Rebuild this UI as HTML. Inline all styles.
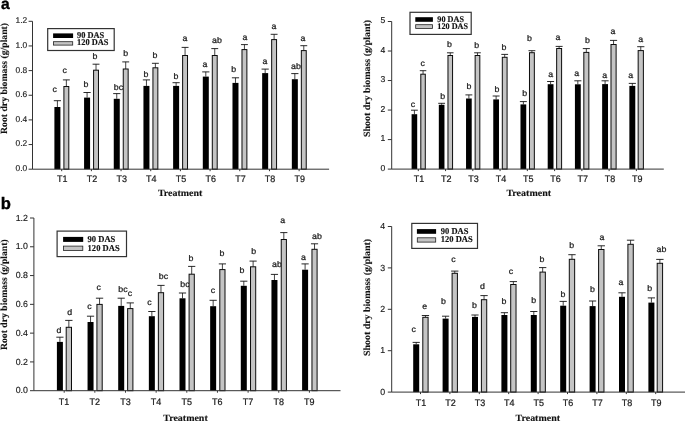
<!DOCTYPE html>
<html lang="en"><head><meta charset="utf-8"><title>Root and shoot dry biomass</title>
<style>html,body{margin:0;padding:0;background:#fff;}body{width:685px;height:421px;overflow:hidden;}svg{display:block;}text{text-rendering:geometricPrecision;}.s{font-family:"Liberation Sans", Arial, sans-serif;fill:#1a1a1a;}.b{font-family:"Liberation Serif", "Times New Roman", serif;font-weight:bold;fill:#111;}.p{font-family:"Liberation Sans", Arial, sans-serif;font-weight:bold;fill:#000;stroke:#000;stroke-width:0.35px;}</style>
</head><body>
<svg width="685" height="421" viewBox="0 0 685 421">
<rect width="685" height="421" fill="#fff"/>
<text class="p" x="0.9" y="8.8" font-size="15.6">a</text>
<text class="p" x="0.7" y="208.6" font-size="16.6">b</text>
<g id="chartA">
<path d="M57.40 107.00V100.70" stroke="#222" stroke-width="0.85" fill="none"/>
<path d="M53.80 100.70H61.00" stroke="#111" stroke-width="0.9" fill="none"/>
<rect x="54.40" y="107.00" width="6.00" height="62.20" fill="#000"/>
<text class="s" transform="translate(54.60 92.40) scale(0.2200 0.2075)" font-size="40" stroke="#1a1a1a" stroke-width="1.2" text-anchor="middle">c</text>
<path d="M66.35 86.60V79.90" stroke="#222" stroke-width="0.85" fill="none"/>
<path d="M62.90 79.90H69.80" stroke="#111" stroke-width="0.9" fill="none"/>
<rect x="63.90" y="86.50" width="4.90" height="82.70" fill="#c4c4c4" stroke="#0c0c0c" stroke-width="1"/>
<text class="s" transform="translate(64.60 73.00) scale(0.2200 0.2075)" font-size="40" stroke="#1a1a1a" stroke-width="1.2" text-anchor="middle">c</text>
<path d="M87.08 97.60V92.50" stroke="#222" stroke-width="0.85" fill="none"/>
<path d="M83.48 92.50H90.68" stroke="#111" stroke-width="0.9" fill="none"/>
<rect x="84.08" y="97.60" width="6.00" height="71.60" fill="#000"/>
<text class="s" transform="translate(86.00 87.00) scale(0.2200 0.2075)" font-size="40" stroke="#1a1a1a" stroke-width="1.2" text-anchor="middle">b</text>
<path d="M96.03 70.30V64.20" stroke="#222" stroke-width="0.85" fill="none"/>
<path d="M92.58 64.20H99.48" stroke="#111" stroke-width="0.9" fill="none"/>
<rect x="93.58" y="70.20" width="4.90" height="99.00" fill="#c4c4c4" stroke="#0c0c0c" stroke-width="1"/>
<text class="s" transform="translate(95.00 58.60) scale(0.2200 0.2075)" font-size="40" stroke="#1a1a1a" stroke-width="1.2" text-anchor="middle">b</text>
<path d="M116.76 98.80V93.60" stroke="#222" stroke-width="0.85" fill="none"/>
<path d="M113.16 93.60H120.36" stroke="#111" stroke-width="0.9" fill="none"/>
<rect x="113.76" y="98.80" width="6.00" height="70.40" fill="#000"/>
<text class="s" transform="translate(118.40 90.00) scale(0.2200 0.2075)" font-size="40" stroke="#1a1a1a" stroke-width="1.2" text-anchor="middle">bc</text>
<path d="M125.71 69.10V61.90" stroke="#222" stroke-width="0.85" fill="none"/>
<path d="M122.26 61.90H129.16" stroke="#111" stroke-width="0.9" fill="none"/>
<rect x="123.26" y="69.00" width="4.90" height="100.20" fill="#c4c4c4" stroke="#0c0c0c" stroke-width="1"/>
<text class="s" transform="translate(125.60 56.00) scale(0.2200 0.2075)" font-size="40" stroke="#1a1a1a" stroke-width="1.2" text-anchor="middle">b</text>
<path d="M146.44 85.90V79.90" stroke="#222" stroke-width="0.85" fill="none"/>
<path d="M142.84 79.90H150.04" stroke="#111" stroke-width="0.9" fill="none"/>
<rect x="143.44" y="85.90" width="6.00" height="83.30" fill="#000"/>
<text class="s" transform="translate(146.00 77.40) scale(0.2200 0.2075)" font-size="40" stroke="#1a1a1a" stroke-width="1.2" text-anchor="middle">b</text>
<path d="M155.39 67.90V63.30" stroke="#222" stroke-width="0.85" fill="none"/>
<path d="M151.94 63.30H158.84" stroke="#111" stroke-width="0.9" fill="none"/>
<rect x="152.94" y="67.80" width="4.90" height="101.40" fill="#c4c4c4" stroke="#0c0c0c" stroke-width="1"/>
<text class="s" transform="translate(155.00 58.00) scale(0.2200 0.2075)" font-size="40" stroke="#1a1a1a" stroke-width="1.2" text-anchor="middle">b</text>
<path d="M176.12 85.90V82.70" stroke="#222" stroke-width="0.85" fill="none"/>
<path d="M172.52 82.70H179.72" stroke="#111" stroke-width="0.9" fill="none"/>
<rect x="173.12" y="85.90" width="6.00" height="83.30" fill="#000"/>
<text class="s" transform="translate(176.00 78.60) scale(0.2200 0.2075)" font-size="40" stroke="#1a1a1a" stroke-width="1.2" text-anchor="middle">b</text>
<path d="M185.07 55.60V47.40" stroke="#222" stroke-width="0.85" fill="none"/>
<path d="M181.62 47.40H188.52" stroke="#111" stroke-width="0.9" fill="none"/>
<rect x="182.62" y="55.50" width="4.90" height="113.70" fill="#c4c4c4" stroke="#0c0c0c" stroke-width="1"/>
<text class="s" transform="translate(185.00 41.00) scale(0.2200 0.2075)" font-size="40" stroke="#1a1a1a" stroke-width="1.2" text-anchor="middle">a</text>
<path d="M205.80 76.60V71.90" stroke="#222" stroke-width="0.85" fill="none"/>
<path d="M202.20 71.90H209.40" stroke="#111" stroke-width="0.9" fill="none"/>
<rect x="202.80" y="76.60" width="6.00" height="92.60" fill="#000"/>
<text class="s" transform="translate(205.00 67.00) scale(0.2200 0.2075)" font-size="40" stroke="#1a1a1a" stroke-width="1.2" text-anchor="middle">a</text>
<path d="M214.75 55.60V48.60" stroke="#222" stroke-width="0.85" fill="none"/>
<path d="M211.30 48.60H218.20" stroke="#111" stroke-width="0.9" fill="none"/>
<rect x="212.30" y="55.50" width="4.90" height="113.70" fill="#c4c4c4" stroke="#0c0c0c" stroke-width="1"/>
<text class="s" transform="translate(217.00 43.00) scale(0.2200 0.2075)" font-size="40" stroke="#1a1a1a" stroke-width="1.2" text-anchor="middle">ab</text>
<path d="M235.48 82.90V77.80" stroke="#222" stroke-width="0.85" fill="none"/>
<path d="M231.88 77.80H239.08" stroke="#111" stroke-width="0.9" fill="none"/>
<rect x="232.48" y="82.90" width="6.00" height="86.30" fill="#000"/>
<text class="s" transform="translate(233.60 72.00) scale(0.2200 0.2075)" font-size="40" stroke="#1a1a1a" stroke-width="1.2" text-anchor="middle">b</text>
<path d="M244.43 49.70V44.60" stroke="#222" stroke-width="0.85" fill="none"/>
<path d="M240.98 44.60H247.88" stroke="#111" stroke-width="0.9" fill="none"/>
<rect x="241.98" y="49.60" width="4.90" height="119.60" fill="#c4c4c4" stroke="#0c0c0c" stroke-width="1"/>
<text class="s" transform="translate(245.00 40.00) scale(0.2200 0.2075)" font-size="40" stroke="#1a1a1a" stroke-width="1.2" text-anchor="middle">a</text>
<path d="M265.16 73.10V69.10" stroke="#222" stroke-width="0.85" fill="none"/>
<path d="M261.56 69.10H268.76" stroke="#111" stroke-width="0.9" fill="none"/>
<rect x="262.16" y="73.10" width="6.00" height="96.10" fill="#000"/>
<text class="s" transform="translate(265.00 64.40) scale(0.2200 0.2075)" font-size="40" stroke="#1a1a1a" stroke-width="1.2" text-anchor="middle">a</text>
<path d="M274.11 39.70V34.30" stroke="#222" stroke-width="0.85" fill="none"/>
<path d="M270.66 34.30H277.56" stroke="#111" stroke-width="0.9" fill="none"/>
<rect x="271.66" y="39.60" width="4.90" height="129.60" fill="#c4c4c4" stroke="#0c0c0c" stroke-width="1"/>
<text class="s" transform="translate(274.00 29.00) scale(0.2200 0.2075)" font-size="40" stroke="#1a1a1a" stroke-width="1.2" text-anchor="middle">a</text>
<path d="M294.84 79.20V73.60" stroke="#222" stroke-width="0.85" fill="none"/>
<path d="M291.24 73.60H298.44" stroke="#111" stroke-width="0.9" fill="none"/>
<rect x="291.84" y="79.20" width="6.00" height="90.00" fill="#000"/>
<text class="s" transform="translate(296.00 69.00) scale(0.2200 0.2075)" font-size="40" stroke="#1a1a1a" stroke-width="1.2" text-anchor="middle">ab</text>
<path d="M303.79 50.70V45.70" stroke="#222" stroke-width="0.85" fill="none"/>
<path d="M300.34 45.70H307.24" stroke="#111" stroke-width="0.9" fill="none"/>
<rect x="301.34" y="50.60" width="4.90" height="118.60" fill="#c4c4c4" stroke="#0c0c0c" stroke-width="1"/>
<text class="s" transform="translate(303.00 40.60) scale(0.2200 0.2075)" font-size="40" stroke="#1a1a1a" stroke-width="1.2" text-anchor="middle">a</text>
<path d="M32.50 21.30V169.20H329.10" stroke="#333" stroke-width="1.00" fill="none"/>
<path d="M28.60 169.20H32.50" stroke="#333" stroke-width="1.00"/>
<text class="s" x="27.20" y="171.10" font-size="8.4" stroke="#1a1a1a" stroke-width="0.15" text-anchor="end">0.0</text>
<path d="M28.60 144.55H32.50" stroke="#333" stroke-width="1.00"/>
<text class="s" x="27.20" y="146.45" font-size="8.4" stroke="#1a1a1a" stroke-width="0.15" text-anchor="end">0.2</text>
<path d="M28.60 119.90H32.50" stroke="#333" stroke-width="1.00"/>
<text class="s" x="27.20" y="121.80" font-size="8.4" stroke="#1a1a1a" stroke-width="0.15" text-anchor="end">0.4</text>
<path d="M28.60 95.25H32.50" stroke="#333" stroke-width="1.00"/>
<text class="s" x="27.20" y="97.15" font-size="8.4" stroke="#1a1a1a" stroke-width="0.15" text-anchor="end">0.6</text>
<path d="M28.60 70.60H32.50" stroke="#333" stroke-width="1.00"/>
<text class="s" x="27.20" y="72.50" font-size="8.4" stroke="#1a1a1a" stroke-width="0.15" text-anchor="end">0.8</text>
<path d="M28.60 45.95H32.50" stroke="#333" stroke-width="1.00"/>
<text class="s" x="27.20" y="47.85" font-size="8.4" stroke="#1a1a1a" stroke-width="0.15" text-anchor="end">1.0</text>
<path d="M28.60 21.30H32.50" stroke="#333" stroke-width="1.00"/>
<text class="s" x="27.20" y="23.20" font-size="8.4" stroke="#1a1a1a" stroke-width="0.15" text-anchor="end">1.2</text>
<path d="M61.70 169.20V171.20" stroke="#333" stroke-width="1.00"/>
<text class="s" transform="translate(62.30 181.70) scale(0.2250 0.2350)" font-size="40" stroke="#1a1a1a" stroke-width="1.0" text-anchor="middle">T1</text>
<path d="M91.38 169.20V171.20" stroke="#333" stroke-width="1.00"/>
<text class="s" transform="translate(91.98 181.70) scale(0.2250 0.2350)" font-size="40" stroke="#1a1a1a" stroke-width="1.0" text-anchor="middle">T2</text>
<path d="M121.06 169.20V171.20" stroke="#333" stroke-width="1.00"/>
<text class="s" transform="translate(121.66 181.70) scale(0.2250 0.2350)" font-size="40" stroke="#1a1a1a" stroke-width="1.0" text-anchor="middle">T3</text>
<path d="M150.74 169.20V171.20" stroke="#333" stroke-width="1.00"/>
<text class="s" transform="translate(151.34 181.70) scale(0.2250 0.2350)" font-size="40" stroke="#1a1a1a" stroke-width="1.0" text-anchor="middle">T4</text>
<path d="M180.42 169.20V171.20" stroke="#333" stroke-width="1.00"/>
<text class="s" transform="translate(181.02 181.70) scale(0.2250 0.2350)" font-size="40" stroke="#1a1a1a" stroke-width="1.0" text-anchor="middle">T5</text>
<path d="M210.10 169.20V171.20" stroke="#333" stroke-width="1.00"/>
<text class="s" transform="translate(210.70 181.70) scale(0.2250 0.2350)" font-size="40" stroke="#1a1a1a" stroke-width="1.0" text-anchor="middle">T6</text>
<path d="M239.78 169.20V171.20" stroke="#333" stroke-width="1.00"/>
<text class="s" transform="translate(240.38 181.70) scale(0.2250 0.2350)" font-size="40" stroke="#1a1a1a" stroke-width="1.0" text-anchor="middle">T7</text>
<path d="M269.46 169.20V171.20" stroke="#333" stroke-width="1.00"/>
<text class="s" transform="translate(270.06 181.70) scale(0.2250 0.2350)" font-size="40" stroke="#1a1a1a" stroke-width="1.0" text-anchor="middle">T8</text>
<path d="M299.14 169.20V171.20" stroke="#333" stroke-width="1.00"/>
<text class="s" transform="translate(299.74 181.70) scale(0.2250 0.2350)" font-size="40" stroke="#1a1a1a" stroke-width="1.0" text-anchor="middle">T9</text>
<text class="b" x="157.90" y="196.10" font-size="9.5" stroke="#111" stroke-width="0.12" textLength="44.40" lengthAdjust="spacingAndGlyphs">Treatment</text>
<text class="b" transform="translate(6.80 134.00) rotate(-90)" font-size="9.5" stroke="#111" stroke-width="0.12" textLength="111.10" lengthAdjust="spacingAndGlyphs">Root dry biomass (g/plant)</text>
<rect x="47.70" y="28.60" width="66.50" height="21.90" fill="#fff" stroke="#333" stroke-width="1.2"/>
<rect x="53.10" y="33.40" width="20.00" height="4.60" fill="#000"/>
<rect x="53.50" y="41.70" width="19.20" height="3.40" fill="#c4c4c4" stroke="#222" stroke-width="0.8"/>
<text class="b" x="77.00" y="38.30" font-size="8.90" stroke="#111" stroke-width="0.15" textLength="27.30" lengthAdjust="spacingAndGlyphs">90 DAS</text>
<text class="b" x="77.00" y="45.30" font-size="8.90" stroke="#111" stroke-width="0.15" textLength="31.50" lengthAdjust="spacingAndGlyphs">120 DAS</text>
</g>
<g id="chartB">
<path d="M414.40 114.20V110.20" stroke="#222" stroke-width="0.85" fill="none"/>
<path d="M411.00 110.20H417.80" stroke="#111" stroke-width="0.9" fill="none"/>
<rect x="411.60" y="114.20" width="5.60" height="54.90" fill="#000"/>
<text class="s" transform="translate(413.00 106.60) scale(0.2200 0.2075)" font-size="40" stroke="#1a1a1a" stroke-width="1.2" text-anchor="middle">c</text>
<path d="M423.05 74.30V70.70" stroke="#222" stroke-width="0.85" fill="none"/>
<path d="M419.80 70.70H426.30" stroke="#111" stroke-width="0.9" fill="none"/>
<rect x="420.80" y="74.20" width="4.50" height="94.90" fill="#c4c4c4" stroke="#0c0c0c" stroke-width="1"/>
<text class="s" transform="translate(422.60 66.00) scale(0.2200 0.2075)" font-size="40" stroke="#1a1a1a" stroke-width="1.2" text-anchor="middle">c</text>
<path d="M441.64 104.80V103.30" stroke="#222" stroke-width="0.85" fill="none"/>
<path d="M438.22 103.30H445.06" stroke="#111" stroke-width="0.9" fill="none"/>
<rect x="438.82" y="104.80" width="5.64" height="64.30" fill="#000"/>
<text class="s" transform="translate(442.60 99.00) scale(0.2200 0.2075)" font-size="40" stroke="#1a1a1a" stroke-width="1.2" text-anchor="middle">b</text>
<path d="M450.26 55.60V52.80" stroke="#222" stroke-width="0.85" fill="none"/>
<path d="M446.97 52.80H453.56" stroke="#111" stroke-width="0.9" fill="none"/>
<rect x="447.97" y="55.50" width="4.59" height="113.60" fill="#c4c4c4" stroke="#0c0c0c" stroke-width="1"/>
<text class="s" transform="translate(449.40 47.00) scale(0.2200 0.2075)" font-size="40" stroke="#1a1a1a" stroke-width="1.2" text-anchor="middle">b</text>
<path d="M468.88 98.50V94.90" stroke="#222" stroke-width="0.85" fill="none"/>
<path d="M465.44 94.90H472.32" stroke="#111" stroke-width="0.9" fill="none"/>
<rect x="466.04" y="98.50" width="5.68" height="70.60" fill="#000"/>
<text class="s" transform="translate(469.00 89.00) scale(0.2200 0.2075)" font-size="40" stroke="#1a1a1a" stroke-width="1.2" text-anchor="middle">b</text>
<path d="M477.48 55.60V52.80" stroke="#222" stroke-width="0.85" fill="none"/>
<path d="M474.14 52.80H480.82" stroke="#111" stroke-width="0.9" fill="none"/>
<rect x="475.14" y="55.50" width="4.68" height="113.60" fill="#c4c4c4" stroke="#0c0c0c" stroke-width="1"/>
<text class="s" transform="translate(476.60 47.60) scale(0.2200 0.2075)" font-size="40" stroke="#1a1a1a" stroke-width="1.2" text-anchor="middle">b</text>
<path d="M496.12 99.40V96.00" stroke="#222" stroke-width="0.85" fill="none"/>
<path d="M492.66 96.00H499.58" stroke="#111" stroke-width="0.9" fill="none"/>
<rect x="493.26" y="99.40" width="5.72" height="69.70" fill="#000"/>
<text class="s" transform="translate(497.00 91.60) scale(0.2200 0.2075)" font-size="40" stroke="#1a1a1a" stroke-width="1.2" text-anchor="middle">b</text>
<path d="M504.70 57.40V54.40" stroke="#222" stroke-width="0.85" fill="none"/>
<path d="M501.31 54.40H508.08" stroke="#111" stroke-width="0.9" fill="none"/>
<rect x="502.31" y="57.30" width="4.77" height="111.80" fill="#c4c4c4" stroke="#0c0c0c" stroke-width="1"/>
<text class="s" transform="translate(504.00 50.00) scale(0.2200 0.2075)" font-size="40" stroke="#1a1a1a" stroke-width="1.2" text-anchor="middle">b</text>
<path d="M523.36 104.40V101.60" stroke="#222" stroke-width="0.85" fill="none"/>
<path d="M519.88 101.60H526.84" stroke="#111" stroke-width="0.9" fill="none"/>
<rect x="520.48" y="104.40" width="5.76" height="64.70" fill="#000"/>
<text class="s" transform="translate(524.60 96.00) scale(0.2200 0.2075)" font-size="40" stroke="#1a1a1a" stroke-width="1.2" text-anchor="middle">b</text>
<path d="M531.91 52.80V50.70" stroke="#222" stroke-width="0.85" fill="none"/>
<path d="M528.48 50.70H535.34" stroke="#111" stroke-width="0.9" fill="none"/>
<rect x="529.48" y="52.70" width="4.86" height="116.40" fill="#c4c4c4" stroke="#0c0c0c" stroke-width="1"/>
<text class="s" transform="translate(529.40 40.60) scale(0.2200 0.2075)" font-size="40" stroke="#1a1a1a" stroke-width="1.2" text-anchor="middle">b</text>
<path d="M550.60 84.20V81.50" stroke="#222" stroke-width="0.85" fill="none"/>
<path d="M547.10 81.50H554.10" stroke="#111" stroke-width="0.9" fill="none"/>
<rect x="547.70" y="84.20" width="5.80" height="84.90" fill="#000"/>
<text class="s" transform="translate(550.60 76.60) scale(0.2200 0.2075)" font-size="40" stroke="#1a1a1a" stroke-width="1.2" text-anchor="middle">a</text>
<path d="M559.12 48.60V46.40" stroke="#222" stroke-width="0.85" fill="none"/>
<path d="M555.65 46.40H562.60" stroke="#111" stroke-width="0.9" fill="none"/>
<rect x="556.65" y="48.50" width="4.95" height="120.60" fill="#c4c4c4" stroke="#0c0c0c" stroke-width="1"/>
<text class="s" transform="translate(558.00 40.00) scale(0.2200 0.2075)" font-size="40" stroke="#1a1a1a" stroke-width="1.2" text-anchor="middle">a</text>
<path d="M577.84 84.30V80.80" stroke="#222" stroke-width="0.85" fill="none"/>
<path d="M574.32 80.80H581.36" stroke="#111" stroke-width="0.9" fill="none"/>
<rect x="574.92" y="84.30" width="5.84" height="84.80" fill="#000"/>
<text class="s" transform="translate(576.60 76.00) scale(0.2200 0.2075)" font-size="40" stroke="#1a1a1a" stroke-width="1.2" text-anchor="middle">a</text>
<path d="M586.34 52.50V48.60" stroke="#222" stroke-width="0.85" fill="none"/>
<path d="M582.82 48.60H589.86" stroke="#111" stroke-width="0.9" fill="none"/>
<rect x="583.82" y="52.40" width="5.04" height="116.70" fill="#c4c4c4" stroke="#0c0c0c" stroke-width="1"/>
<text class="s" transform="translate(587.40 43.00) scale(0.2200 0.2075)" font-size="40" stroke="#1a1a1a" stroke-width="1.2" text-anchor="middle">b</text>
<path d="M605.08 84.10V80.80" stroke="#222" stroke-width="0.85" fill="none"/>
<path d="M601.54 80.80H608.62" stroke="#111" stroke-width="0.9" fill="none"/>
<rect x="602.14" y="84.10" width="5.88" height="85.00" fill="#000"/>
<text class="s" transform="translate(604.60 77.60) scale(0.2200 0.2075)" font-size="40" stroke="#1a1a1a" stroke-width="1.2" text-anchor="middle">a</text>
<path d="M613.56 44.60V40.40" stroke="#222" stroke-width="0.85" fill="none"/>
<path d="M609.99 40.40H617.12" stroke="#111" stroke-width="0.9" fill="none"/>
<rect x="610.99" y="44.50" width="5.13" height="124.60" fill="#c4c4c4" stroke="#0c0c0c" stroke-width="1"/>
<text class="s" transform="translate(613.00 33.60) scale(0.2200 0.2075)" font-size="40" stroke="#1a1a1a" stroke-width="1.2" text-anchor="middle">a</text>
<path d="M632.32 85.90V83.40" stroke="#222" stroke-width="0.85" fill="none"/>
<path d="M628.76 83.40H635.88" stroke="#111" stroke-width="0.9" fill="none"/>
<rect x="629.36" y="85.90" width="5.92" height="83.20" fill="#000"/>
<text class="s" transform="translate(630.60 77.60) scale(0.2200 0.2075)" font-size="40" stroke="#1a1a1a" stroke-width="1.2" text-anchor="middle">a</text>
<path d="M640.77 50.70V46.70" stroke="#222" stroke-width="0.85" fill="none"/>
<path d="M637.16 46.70H644.38" stroke="#111" stroke-width="0.9" fill="none"/>
<rect x="638.16" y="50.60" width="5.22" height="118.50" fill="#c4c4c4" stroke="#0c0c0c" stroke-width="1"/>
<text class="s" transform="translate(640.60 41.60) scale(0.2200 0.2075)" font-size="40" stroke="#1a1a1a" stroke-width="1.2" text-anchor="middle">a</text>
<path d="M391.70 21.50V169.10H663.80" stroke="#333" stroke-width="1.00" fill="none"/>
<path d="M387.80 169.10H391.70" stroke="#333" stroke-width="1.00"/>
<text class="s" x="385.30" y="171.00" font-size="8.6" stroke="#1a1a1a" stroke-width="0.15" text-anchor="end">0</text>
<path d="M387.80 139.58H391.70" stroke="#333" stroke-width="1.00"/>
<text class="s" x="385.30" y="141.48" font-size="8.6" stroke="#1a1a1a" stroke-width="0.15" text-anchor="end">1</text>
<path d="M387.80 110.06H391.70" stroke="#333" stroke-width="1.00"/>
<text class="s" x="385.30" y="111.96" font-size="8.6" stroke="#1a1a1a" stroke-width="0.15" text-anchor="end">2</text>
<path d="M387.80 80.54H391.70" stroke="#333" stroke-width="1.00"/>
<text class="s" x="385.30" y="82.44" font-size="8.6" stroke="#1a1a1a" stroke-width="0.15" text-anchor="end">3</text>
<path d="M387.80 51.02H391.70" stroke="#333" stroke-width="1.00"/>
<text class="s" x="385.30" y="52.92" font-size="8.6" stroke="#1a1a1a" stroke-width="0.15" text-anchor="end">4</text>
<path d="M387.80 21.50H391.70" stroke="#333" stroke-width="1.00"/>
<text class="s" x="385.30" y="23.40" font-size="8.6" stroke="#1a1a1a" stroke-width="0.15" text-anchor="end">5</text>
<path d="M418.30 169.10V171.10" stroke="#333" stroke-width="1.00"/>
<text class="s" transform="translate(419.10 181.70) scale(0.2250 0.2350)" font-size="40" stroke="#1a1a1a" stroke-width="1.0" text-anchor="middle">T1</text>
<path d="M445.56 169.10V171.10" stroke="#333" stroke-width="1.00"/>
<text class="s" transform="translate(446.36 181.70) scale(0.2250 0.2350)" font-size="40" stroke="#1a1a1a" stroke-width="1.0" text-anchor="middle">T2</text>
<path d="M472.82 169.10V171.10" stroke="#333" stroke-width="1.00"/>
<text class="s" transform="translate(473.62 181.70) scale(0.2250 0.2350)" font-size="40" stroke="#1a1a1a" stroke-width="1.0" text-anchor="middle">T3</text>
<path d="M500.08 169.10V171.10" stroke="#333" stroke-width="1.00"/>
<text class="s" transform="translate(500.88 181.70) scale(0.2250 0.2350)" font-size="40" stroke="#1a1a1a" stroke-width="1.0" text-anchor="middle">T4</text>
<path d="M527.34 169.10V171.10" stroke="#333" stroke-width="1.00"/>
<text class="s" transform="translate(528.14 181.70) scale(0.2250 0.2350)" font-size="40" stroke="#1a1a1a" stroke-width="1.0" text-anchor="middle">T5</text>
<path d="M554.60 169.10V171.10" stroke="#333" stroke-width="1.00"/>
<text class="s" transform="translate(555.40 181.70) scale(0.2250 0.2350)" font-size="40" stroke="#1a1a1a" stroke-width="1.0" text-anchor="middle">T6</text>
<path d="M581.86 169.10V171.10" stroke="#333" stroke-width="1.00"/>
<text class="s" transform="translate(582.66 181.70) scale(0.2250 0.2350)" font-size="40" stroke="#1a1a1a" stroke-width="1.0" text-anchor="middle">T7</text>
<path d="M609.12 169.10V171.10" stroke="#333" stroke-width="1.00"/>
<text class="s" transform="translate(609.92 181.70) scale(0.2250 0.2350)" font-size="40" stroke="#1a1a1a" stroke-width="1.0" text-anchor="middle">T8</text>
<path d="M636.38 169.10V171.10" stroke="#333" stroke-width="1.00"/>
<text class="s" transform="translate(637.18 181.70) scale(0.2250 0.2350)" font-size="40" stroke="#1a1a1a" stroke-width="1.0" text-anchor="middle">T9</text>
<text class="b" x="506.40" y="196.10" font-size="9.5" stroke="#111" stroke-width="0.12" textLength="44.70" lengthAdjust="spacingAndGlyphs">Treatment</text>
<text class="b" transform="translate(369.60 137.00) rotate(-90)" font-size="9.5" stroke="#111" stroke-width="0.12" textLength="117.00" lengthAdjust="spacingAndGlyphs">Shoot dry biomass (g/plant)</text>
<rect x="410.00" y="12.30" width="61.20" height="22.10" fill="#fff" stroke="#333" stroke-width="1.2"/>
<rect x="415.30" y="17.20" width="17.60" height="4.60" fill="#000"/>
<rect x="415.70" y="24.70" width="16.80" height="3.70" fill="#c4c4c4" stroke="#222" stroke-width="0.8"/>
<text class="b" x="437.30" y="21.60" font-size="8.69" stroke="#111" stroke-width="0.15" textLength="26.65" lengthAdjust="spacingAndGlyphs">90 DAS</text>
<text class="b" x="437.30" y="28.70" font-size="8.69" stroke="#111" stroke-width="0.15" textLength="30.75" lengthAdjust="spacingAndGlyphs">120 DAS</text>
</g>
<g id="chartC">
<path d="M59.90 341.90V337.20" stroke="#222" stroke-width="0.85" fill="none"/>
<path d="M56.30 337.20H63.50" stroke="#111" stroke-width="0.9" fill="none"/>
<rect x="56.90" y="341.90" width="6.00" height="48.80" fill="#000"/>
<text class="s" transform="translate(59.00 332.60) scale(0.2200 0.2075)" font-size="40" stroke="#1a1a1a" stroke-width="1.2" text-anchor="middle">d</text>
<path d="M68.85 327.40V320.40" stroke="#222" stroke-width="0.85" fill="none"/>
<path d="M65.20 320.40H72.50" stroke="#111" stroke-width="0.9" fill="none"/>
<rect x="66.20" y="327.30" width="5.30" height="63.40" fill="#c4c4c4" stroke="#0c0c0c" stroke-width="1"/>
<text class="s" transform="translate(69.60 315.40) scale(0.2200 0.2075)" font-size="40" stroke="#1a1a1a" stroke-width="1.2" text-anchor="middle">d</text>
<path d="M90.55 322.00V316.20" stroke="#222" stroke-width="0.85" fill="none"/>
<path d="M86.95 316.20H94.15" stroke="#111" stroke-width="0.9" fill="none"/>
<rect x="87.55" y="322.00" width="6.00" height="68.70" fill="#000"/>
<text class="s" transform="translate(89.40 309.40) scale(0.2200 0.2075)" font-size="40" stroke="#1a1a1a" stroke-width="1.2" text-anchor="middle">c</text>
<path d="M99.56 304.50V298.20" stroke="#222" stroke-width="0.85" fill="none"/>
<path d="M95.92 298.20H103.20" stroke="#111" stroke-width="0.9" fill="none"/>
<rect x="96.92" y="304.40" width="5.28" height="86.30" fill="#c4c4c4" stroke="#0c0c0c" stroke-width="1"/>
<text class="s" transform="translate(98.60 290.00) scale(0.2200 0.2075)" font-size="40" stroke="#1a1a1a" stroke-width="1.2" text-anchor="middle">c</text>
<path d="M121.20 305.90V298.20" stroke="#222" stroke-width="0.85" fill="none"/>
<path d="M117.60 298.20H124.80" stroke="#111" stroke-width="0.9" fill="none"/>
<rect x="118.20" y="305.90" width="6.00" height="84.80" fill="#000"/>
<text class="s" transform="translate(123.00 292.40) scale(0.2200 0.2075)" font-size="40" stroke="#1a1a1a" stroke-width="1.2" text-anchor="middle">bc</text>
<path d="M130.27 308.70V302.90" stroke="#222" stroke-width="0.85" fill="none"/>
<path d="M126.64 302.90H133.90" stroke="#111" stroke-width="0.9" fill="none"/>
<rect x="127.64" y="308.60" width="5.26" height="82.10" fill="#c4c4c4" stroke="#0c0c0c" stroke-width="1"/>
<text class="s" transform="translate(130.00 296.00) scale(0.2200 0.2075)" font-size="40" stroke="#1a1a1a" stroke-width="1.2" text-anchor="middle">c</text>
<path d="M151.85 316.20V311.50" stroke="#222" stroke-width="0.85" fill="none"/>
<path d="M148.25 311.50H155.45" stroke="#111" stroke-width="0.9" fill="none"/>
<rect x="148.85" y="316.20" width="6.00" height="74.50" fill="#000"/>
<text class="s" transform="translate(149.40 304.60) scale(0.2200 0.2075)" font-size="40" stroke="#1a1a1a" stroke-width="1.2" text-anchor="middle">c</text>
<path d="M160.98 292.80V285.40" stroke="#222" stroke-width="0.85" fill="none"/>
<path d="M157.36 285.40H164.60" stroke="#111" stroke-width="0.9" fill="none"/>
<rect x="158.36" y="292.70" width="5.24" height="98.00" fill="#c4c4c4" stroke="#0c0c0c" stroke-width="1"/>
<text class="s" transform="translate(163.40 279.00) scale(0.2200 0.2075)" font-size="40" stroke="#1a1a1a" stroke-width="1.2" text-anchor="middle">bc</text>
<path d="M182.50 298.30V293.00" stroke="#222" stroke-width="0.85" fill="none"/>
<path d="M178.90 293.00H186.10" stroke="#111" stroke-width="0.9" fill="none"/>
<rect x="179.50" y="298.30" width="6.00" height="92.40" fill="#000"/>
<text class="s" transform="translate(185.00 287.40) scale(0.2200 0.2075)" font-size="40" stroke="#1a1a1a" stroke-width="1.2" text-anchor="middle">bc</text>
<path d="M191.69 274.30V266.40" stroke="#222" stroke-width="0.85" fill="none"/>
<path d="M188.08 266.40H195.30" stroke="#111" stroke-width="0.9" fill="none"/>
<rect x="189.08" y="274.20" width="5.22" height="116.50" fill="#c4c4c4" stroke="#0c0c0c" stroke-width="1"/>
<text class="s" transform="translate(191.00 260.60) scale(0.2200 0.2075)" font-size="40" stroke="#1a1a1a" stroke-width="1.2" text-anchor="middle">b</text>
<path d="M213.15 306.20V300.30" stroke="#222" stroke-width="0.85" fill="none"/>
<path d="M209.55 300.30H216.75" stroke="#111" stroke-width="0.9" fill="none"/>
<rect x="210.15" y="306.20" width="6.00" height="84.50" fill="#000"/>
<text class="s" transform="translate(213.00 293.40) scale(0.2200 0.2075)" font-size="40" stroke="#1a1a1a" stroke-width="1.2" text-anchor="middle">c</text>
<path d="M222.40 269.70V263.90" stroke="#222" stroke-width="0.85" fill="none"/>
<path d="M218.80 263.90H226.00" stroke="#111" stroke-width="0.9" fill="none"/>
<rect x="219.80" y="269.60" width="5.20" height="121.10" fill="#c4c4c4" stroke="#0c0c0c" stroke-width="1"/>
<text class="s" transform="translate(222.00 255.60) scale(0.2200 0.2075)" font-size="40" stroke="#1a1a1a" stroke-width="1.2" text-anchor="middle">b</text>
<path d="M243.80 285.80V281.20" stroke="#222" stroke-width="0.85" fill="none"/>
<path d="M240.20 281.20H247.40" stroke="#111" stroke-width="0.9" fill="none"/>
<rect x="240.80" y="285.80" width="6.00" height="104.90" fill="#000"/>
<text class="s" transform="translate(242.00 272.60) scale(0.2200 0.2075)" font-size="40" stroke="#1a1a1a" stroke-width="1.2" text-anchor="middle">b</text>
<path d="M253.11 266.90V261.10" stroke="#222" stroke-width="0.85" fill="none"/>
<path d="M249.52 261.10H256.70" stroke="#111" stroke-width="0.9" fill="none"/>
<rect x="250.52" y="266.80" width="5.18" height="123.90" fill="#c4c4c4" stroke="#0c0c0c" stroke-width="1"/>
<text class="s" transform="translate(253.60 253.60) scale(0.2200 0.2075)" font-size="40" stroke="#1a1a1a" stroke-width="1.2" text-anchor="middle">b</text>
<path d="M274.45 280.00V274.40" stroke="#222" stroke-width="0.85" fill="none"/>
<path d="M270.85 274.40H278.05" stroke="#111" stroke-width="0.9" fill="none"/>
<rect x="271.45" y="280.00" width="6.00" height="110.70" fill="#000"/>
<text class="s" transform="translate(277.00 267.00) scale(0.2200 0.2075)" font-size="40" stroke="#1a1a1a" stroke-width="1.2" text-anchor="middle">ab</text>
<path d="M283.82 239.60V232.60" stroke="#222" stroke-width="0.85" fill="none"/>
<path d="M280.24 232.60H287.40" stroke="#111" stroke-width="0.9" fill="none"/>
<rect x="281.24" y="239.50" width="5.16" height="151.20" fill="#c4c4c4" stroke="#0c0c0c" stroke-width="1"/>
<text class="s" transform="translate(282.70 222.80) scale(0.2200 0.2075)" font-size="40" stroke="#1a1a1a" stroke-width="1.2" text-anchor="middle">a</text>
<path d="M305.10 269.70V263.90" stroke="#222" stroke-width="0.85" fill="none"/>
<path d="M301.50 263.90H308.70" stroke="#111" stroke-width="0.9" fill="none"/>
<rect x="302.10" y="269.70" width="6.00" height="121.00" fill="#000"/>
<text class="s" transform="translate(303.40 259.60) scale(0.2200 0.2075)" font-size="40" stroke="#1a1a1a" stroke-width="1.2" text-anchor="middle">a</text>
<path d="M314.53 249.40V243.80" stroke="#222" stroke-width="0.85" fill="none"/>
<path d="M310.96 243.80H318.10" stroke="#111" stroke-width="0.9" fill="none"/>
<rect x="311.96" y="249.30" width="5.14" height="141.40" fill="#c4c4c4" stroke="#0c0c0c" stroke-width="1"/>
<text class="s" transform="translate(317.00 239.10) scale(0.2200 0.2075)" font-size="40" stroke="#1a1a1a" stroke-width="1.2" text-anchor="middle">ab</text>
<path d="M33.90 218.00V390.70H340.50" stroke="#333" stroke-width="1.00" fill="none"/>
<path d="M30.00 390.70H33.90" stroke="#333" stroke-width="1.00"/>
<text class="s" x="27.90" y="393.30" font-size="8.8" stroke="#1a1a1a" stroke-width="0.15" text-anchor="end">0.0</text>
<path d="M30.00 361.92H33.90" stroke="#333" stroke-width="1.00"/>
<text class="s" x="27.90" y="364.52" font-size="8.8" stroke="#1a1a1a" stroke-width="0.15" text-anchor="end">0.2</text>
<path d="M30.00 333.13H33.90" stroke="#333" stroke-width="1.00"/>
<text class="s" x="27.90" y="335.73" font-size="8.8" stroke="#1a1a1a" stroke-width="0.15" text-anchor="end">0.4</text>
<path d="M30.00 304.35H33.90" stroke="#333" stroke-width="1.00"/>
<text class="s" x="27.90" y="306.95" font-size="8.8" stroke="#1a1a1a" stroke-width="0.15" text-anchor="end">0.6</text>
<path d="M30.00 275.57H33.90" stroke="#333" stroke-width="1.00"/>
<text class="s" x="27.90" y="278.17" font-size="8.8" stroke="#1a1a1a" stroke-width="0.15" text-anchor="end">0.8</text>
<path d="M30.00 246.78H33.90" stroke="#333" stroke-width="1.00"/>
<text class="s" x="27.90" y="249.38" font-size="8.8" stroke="#1a1a1a" stroke-width="0.15" text-anchor="end">1.0</text>
<path d="M30.00 218.00H33.90" stroke="#333" stroke-width="1.00"/>
<text class="s" x="27.90" y="220.60" font-size="8.8" stroke="#1a1a1a" stroke-width="0.15" text-anchor="end">1.2</text>
<path d="M64.20 390.70V392.70" stroke="#333" stroke-width="1.00"/>
<text class="s" transform="translate(64.10 405.10) scale(0.2250 0.2350)" font-size="40" stroke="#1a1a1a" stroke-width="1.0" text-anchor="middle">T1</text>
<path d="M94.85 390.70V392.70" stroke="#333" stroke-width="1.00"/>
<text class="s" transform="translate(94.75 405.10) scale(0.2250 0.2350)" font-size="40" stroke="#1a1a1a" stroke-width="1.0" text-anchor="middle">T2</text>
<path d="M125.50 390.70V392.70" stroke="#333" stroke-width="1.00"/>
<text class="s" transform="translate(125.40 405.10) scale(0.2250 0.2350)" font-size="40" stroke="#1a1a1a" stroke-width="1.0" text-anchor="middle">T3</text>
<path d="M156.15 390.70V392.70" stroke="#333" stroke-width="1.00"/>
<text class="s" transform="translate(156.05 405.10) scale(0.2250 0.2350)" font-size="40" stroke="#1a1a1a" stroke-width="1.0" text-anchor="middle">T4</text>
<path d="M186.80 390.70V392.70" stroke="#333" stroke-width="1.00"/>
<text class="s" transform="translate(186.70 405.10) scale(0.2250 0.2350)" font-size="40" stroke="#1a1a1a" stroke-width="1.0" text-anchor="middle">T5</text>
<path d="M217.45 390.70V392.70" stroke="#333" stroke-width="1.00"/>
<text class="s" transform="translate(217.35 405.10) scale(0.2250 0.2350)" font-size="40" stroke="#1a1a1a" stroke-width="1.0" text-anchor="middle">T6</text>
<path d="M248.10 390.70V392.70" stroke="#333" stroke-width="1.00"/>
<text class="s" transform="translate(248.00 405.10) scale(0.2250 0.2350)" font-size="40" stroke="#1a1a1a" stroke-width="1.0" text-anchor="middle">T7</text>
<path d="M278.75 390.70V392.70" stroke="#333" stroke-width="1.00"/>
<text class="s" transform="translate(278.65 405.10) scale(0.2250 0.2350)" font-size="40" stroke="#1a1a1a" stroke-width="1.0" text-anchor="middle">T8</text>
<path d="M309.40 390.70V392.70" stroke="#333" stroke-width="1.00"/>
<text class="s" transform="translate(309.30 405.10) scale(0.2250 0.2350)" font-size="40" stroke="#1a1a1a" stroke-width="1.0" text-anchor="middle">T9</text>
<text class="b" x="163.30" y="420.50" font-size="9.5" stroke="#111" stroke-width="0.12" textLength="44.40" lengthAdjust="spacingAndGlyphs">Treatment</text>
<text class="b" transform="translate(6.60 350.00) rotate(-90)" font-size="9.5" stroke="#111" stroke-width="0.12" textLength="110.70" lengthAdjust="spacingAndGlyphs">Root dry biomass (g/plant)</text>
<rect x="57.10" y="231.10" width="69.40" height="25.50" fill="#fff" stroke="#333" stroke-width="1.2"/>
<rect x="63.10" y="236.90" width="20.10" height="5.00" fill="#000"/>
<rect x="63.50" y="246.10" width="19.30" height="4.30" fill="#c4c4c4" stroke="#222" stroke-width="0.8"/>
<text class="b" x="87.60" y="242.00" font-size="9.06" stroke="#111" stroke-width="0.15" textLength="27.79" lengthAdjust="spacingAndGlyphs">90 DAS</text>
<text class="b" x="87.60" y="250.60" font-size="9.06" stroke="#111" stroke-width="0.15" textLength="32.06" lengthAdjust="spacingAndGlyphs">120 DAS</text>
</g>
<g id="chartD">
<path d="M416.20 344.30V342.40" stroke="#222" stroke-width="0.85" fill="none"/>
<path d="M412.60 342.40H419.80" stroke="#111" stroke-width="0.9" fill="none"/>
<rect x="413.20" y="344.30" width="6.00" height="47.80" fill="#000"/>
<text class="s" transform="translate(413.60 331.60) scale(0.2200 0.2075)" font-size="40" stroke="#1a1a1a" stroke-width="1.2" text-anchor="middle">c</text>
<path d="M425.45 317.40V315.50" stroke="#222" stroke-width="0.85" fill="none"/>
<path d="M421.80 315.50H429.10" stroke="#111" stroke-width="0.9" fill="none"/>
<rect x="422.80" y="317.30" width="5.30" height="74.80" fill="#c4c4c4" stroke="#0c0c0c" stroke-width="1"/>
<text class="s" transform="translate(424.60 309.00) scale(0.2200 0.2075)" font-size="40" stroke="#1a1a1a" stroke-width="1.2" text-anchor="middle">e</text>
<path d="M445.60 318.60V316.20" stroke="#222" stroke-width="0.85" fill="none"/>
<path d="M442.00 316.20H449.20" stroke="#111" stroke-width="0.9" fill="none"/>
<rect x="442.60" y="318.60" width="6.00" height="73.50" fill="#000"/>
<text class="s" transform="translate(443.40 304.40) scale(0.2200 0.2075)" font-size="40" stroke="#1a1a1a" stroke-width="1.2" text-anchor="middle">b</text>
<path d="M454.75 273.40V271.10" stroke="#222" stroke-width="0.85" fill="none"/>
<path d="M451.10 271.10H458.41" stroke="#111" stroke-width="0.9" fill="none"/>
<rect x="452.10" y="273.30" width="5.31" height="118.80" fill="#c4c4c4" stroke="#0c0c0c" stroke-width="1"/>
<text class="s" transform="translate(453.40 262.00) scale(0.2200 0.2075)" font-size="40" stroke="#1a1a1a" stroke-width="1.2" text-anchor="middle">c</text>
<path d="M475.00 316.90V315.00" stroke="#222" stroke-width="0.85" fill="none"/>
<path d="M471.40 315.00H478.60" stroke="#111" stroke-width="0.9" fill="none"/>
<rect x="472.00" y="316.90" width="6.00" height="75.20" fill="#000"/>
<text class="s" transform="translate(474.40 308.00) scale(0.2200 0.2075)" font-size="40" stroke="#1a1a1a" stroke-width="1.2" text-anchor="middle">b</text>
<path d="M484.06 299.80V295.60" stroke="#222" stroke-width="0.85" fill="none"/>
<path d="M480.40 295.60H487.72" stroke="#111" stroke-width="0.9" fill="none"/>
<rect x="481.40" y="299.70" width="5.32" height="92.40" fill="#c4c4c4" stroke="#0c0c0c" stroke-width="1"/>
<text class="s" transform="translate(482.40 288.60) scale(0.2200 0.2075)" font-size="40" stroke="#1a1a1a" stroke-width="1.2" text-anchor="middle">d</text>
<path d="M504.40 315.00V312.70" stroke="#222" stroke-width="0.85" fill="none"/>
<path d="M500.80 312.70H508.00" stroke="#111" stroke-width="0.9" fill="none"/>
<rect x="501.40" y="315.00" width="6.00" height="77.10" fill="#000"/>
<text class="s" transform="translate(504.00 304.00) scale(0.2200 0.2075)" font-size="40" stroke="#1a1a1a" stroke-width="1.2" text-anchor="middle">b</text>
<path d="M513.37 284.60V281.60" stroke="#222" stroke-width="0.85" fill="none"/>
<path d="M509.70 281.60H517.03" stroke="#111" stroke-width="0.9" fill="none"/>
<rect x="510.70" y="284.50" width="5.33" height="107.60" fill="#c4c4c4" stroke="#0c0c0c" stroke-width="1"/>
<text class="s" transform="translate(511.00 274.40) scale(0.2200 0.2075)" font-size="40" stroke="#1a1a1a" stroke-width="1.2" text-anchor="middle">c</text>
<path d="M533.80 315.00V311.50" stroke="#222" stroke-width="0.85" fill="none"/>
<path d="M530.20 311.50H537.40" stroke="#111" stroke-width="0.9" fill="none"/>
<rect x="530.80" y="315.00" width="6.00" height="77.10" fill="#000"/>
<text class="s" transform="translate(533.80 303.00) scale(0.2200 0.2075)" font-size="40" stroke="#1a1a1a" stroke-width="1.2" text-anchor="middle">b</text>
<path d="M542.67 272.20V267.60" stroke="#222" stroke-width="0.85" fill="none"/>
<path d="M539.00 267.60H546.34" stroke="#111" stroke-width="0.9" fill="none"/>
<rect x="540.00" y="272.10" width="5.34" height="120.00" fill="#c4c4c4" stroke="#0c0c0c" stroke-width="1"/>
<text class="s" transform="translate(542.00 262.00) scale(0.2200 0.2075)" font-size="40" stroke="#1a1a1a" stroke-width="1.2" text-anchor="middle">b</text>
<path d="M563.20 305.70V301.40" stroke="#222" stroke-width="0.85" fill="none"/>
<path d="M559.60 301.40H566.80" stroke="#111" stroke-width="0.9" fill="none"/>
<rect x="560.20" y="305.70" width="6.00" height="86.40" fill="#000"/>
<text class="s" transform="translate(563.00 297.40) scale(0.2200 0.2075)" font-size="40" stroke="#1a1a1a" stroke-width="1.2" text-anchor="middle">b</text>
<path d="M571.97 259.40V254.70" stroke="#222" stroke-width="0.85" fill="none"/>
<path d="M568.30 254.70H575.65" stroke="#111" stroke-width="0.9" fill="none"/>
<rect x="569.30" y="259.30" width="5.35" height="132.80" fill="#c4c4c4" stroke="#0c0c0c" stroke-width="1"/>
<text class="s" transform="translate(571.60 248.00) scale(0.2200 0.2075)" font-size="40" stroke="#1a1a1a" stroke-width="1.2" text-anchor="middle">b</text>
<path d="M592.60 306.10V301.00" stroke="#222" stroke-width="0.85" fill="none"/>
<path d="M589.00 301.00H596.20" stroke="#111" stroke-width="0.9" fill="none"/>
<rect x="589.60" y="306.10" width="6.00" height="86.00" fill="#000"/>
<text class="s" transform="translate(592.40 292.00) scale(0.2200 0.2075)" font-size="40" stroke="#1a1a1a" stroke-width="1.2" text-anchor="middle">b</text>
<path d="M601.28 249.60V245.80" stroke="#222" stroke-width="0.85" fill="none"/>
<path d="M597.60 245.80H604.96" stroke="#111" stroke-width="0.9" fill="none"/>
<rect x="598.60" y="249.50" width="5.36" height="142.60" fill="#c4c4c4" stroke="#0c0c0c" stroke-width="1"/>
<text class="s" transform="translate(602.00 240.40) scale(0.2200 0.2075)" font-size="40" stroke="#1a1a1a" stroke-width="1.2" text-anchor="middle">a</text>
<path d="M622.00 296.80V292.80" stroke="#222" stroke-width="0.85" fill="none"/>
<path d="M618.40 292.80H625.60" stroke="#111" stroke-width="0.9" fill="none"/>
<rect x="619.00" y="296.80" width="6.00" height="95.30" fill="#000"/>
<text class="s" transform="translate(621.00 285.40) scale(0.2200 0.2075)" font-size="40" stroke="#1a1a1a" stroke-width="1.2" text-anchor="middle">a</text>
<path d="M630.59 244.40V240.20" stroke="#222" stroke-width="0.85" fill="none"/>
<path d="M626.90 240.20H634.27" stroke="#111" stroke-width="0.9" fill="none"/>
<rect x="627.90" y="244.30" width="5.37" height="147.80" fill="#c4c4c4" stroke="#0c0c0c" stroke-width="1"/>
<path d="M651.40 302.60V297.90" stroke="#222" stroke-width="0.85" fill="none"/>
<path d="M647.80 297.90H655.00" stroke="#111" stroke-width="0.9" fill="none"/>
<rect x="648.40" y="302.60" width="6.00" height="89.50" fill="#000"/>
<text class="s" transform="translate(649.60 291.40) scale(0.2200 0.2075)" font-size="40" stroke="#1a1a1a" stroke-width="1.2" text-anchor="middle">b</text>
<path d="M659.89 263.40V259.40" stroke="#222" stroke-width="0.85" fill="none"/>
<path d="M656.20 259.40H663.58" stroke="#111" stroke-width="0.9" fill="none"/>
<rect x="657.20" y="263.30" width="5.38" height="128.80" fill="#c4c4c4" stroke="#0c0c0c" stroke-width="1"/>
<text class="s" transform="translate(661.40 252.40) scale(0.2200 0.2075)" font-size="40" stroke="#1a1a1a" stroke-width="1.2" text-anchor="middle">ab</text>
<path d="M391.70 226.50V392.10H686.00" stroke="#333" stroke-width="1.00" fill="none"/>
<path d="M387.80 392.10H391.70" stroke="#333" stroke-width="1.00"/>
<text class="s" x="385.10" y="394.80" font-size="8.8" stroke="#1a1a1a" stroke-width="0.15" text-anchor="end">0</text>
<path d="M387.80 350.70H391.70" stroke="#333" stroke-width="1.00"/>
<text class="s" x="385.10" y="353.40" font-size="8.8" stroke="#1a1a1a" stroke-width="0.15" text-anchor="end">1</text>
<path d="M387.80 309.30H391.70" stroke="#333" stroke-width="1.00"/>
<text class="s" x="385.10" y="312.00" font-size="8.8" stroke="#1a1a1a" stroke-width="0.15" text-anchor="end">2</text>
<path d="M387.80 267.90H391.70" stroke="#333" stroke-width="1.00"/>
<text class="s" x="385.10" y="270.60" font-size="8.8" stroke="#1a1a1a" stroke-width="0.15" text-anchor="end">3</text>
<path d="M387.80 226.50H391.70" stroke="#333" stroke-width="1.00"/>
<text class="s" x="385.10" y="229.20" font-size="8.8" stroke="#1a1a1a" stroke-width="0.15" text-anchor="end">4</text>
<path d="M420.50 392.10V394.10" stroke="#333" stroke-width="1.00"/>
<text class="s" transform="translate(421.10 406.10) scale(0.2250 0.2350)" font-size="40" stroke="#1a1a1a" stroke-width="1.0" text-anchor="middle">T1</text>
<path d="M449.90 392.10V394.10" stroke="#333" stroke-width="1.00"/>
<text class="s" transform="translate(450.50 406.10) scale(0.2250 0.2350)" font-size="40" stroke="#1a1a1a" stroke-width="1.0" text-anchor="middle">T2</text>
<path d="M479.30 392.10V394.10" stroke="#333" stroke-width="1.00"/>
<text class="s" transform="translate(479.90 406.10) scale(0.2250 0.2350)" font-size="40" stroke="#1a1a1a" stroke-width="1.0" text-anchor="middle">T3</text>
<path d="M508.70 392.10V394.10" stroke="#333" stroke-width="1.00"/>
<text class="s" transform="translate(509.30 406.10) scale(0.2250 0.2350)" font-size="40" stroke="#1a1a1a" stroke-width="1.0" text-anchor="middle">T4</text>
<path d="M538.10 392.10V394.10" stroke="#333" stroke-width="1.00"/>
<text class="s" transform="translate(538.70 406.10) scale(0.2250 0.2350)" font-size="40" stroke="#1a1a1a" stroke-width="1.0" text-anchor="middle">T5</text>
<path d="M567.50 392.10V394.10" stroke="#333" stroke-width="1.00"/>
<text class="s" transform="translate(568.10 406.10) scale(0.2250 0.2350)" font-size="40" stroke="#1a1a1a" stroke-width="1.0" text-anchor="middle">T6</text>
<path d="M596.90 392.10V394.10" stroke="#333" stroke-width="1.00"/>
<text class="s" transform="translate(597.50 406.10) scale(0.2250 0.2350)" font-size="40" stroke="#1a1a1a" stroke-width="1.0" text-anchor="middle">T7</text>
<path d="M626.30 392.10V394.10" stroke="#333" stroke-width="1.00"/>
<text class="s" transform="translate(626.90 406.10) scale(0.2250 0.2350)" font-size="40" stroke="#1a1a1a" stroke-width="1.0" text-anchor="middle">T8</text>
<path d="M655.70 392.10V394.10" stroke="#333" stroke-width="1.00"/>
<text class="s" transform="translate(656.30 406.10) scale(0.2250 0.2350)" font-size="40" stroke="#1a1a1a" stroke-width="1.0" text-anchor="middle">T9</text>
<text class="b" x="515.60" y="421.30" font-size="9.5" stroke="#111" stroke-width="0.12" textLength="44.40" lengthAdjust="spacingAndGlyphs">Treatment</text>
<text class="b" transform="translate(369.60 356.00) rotate(-90)" font-size="9.5" stroke="#111" stroke-width="0.12" textLength="117.00" lengthAdjust="spacingAndGlyphs">Shoot dry biomass (g/plant)</text>
<rect x="411.80" y="223.40" width="65.70" height="25.00" fill="#fff" stroke="#333" stroke-width="1.2"/>
<rect x="416.90" y="229.10" width="19.20" height="4.70" fill="#000"/>
<rect x="417.30" y="237.80" width="18.40" height="4.30" fill="#c4c4c4" stroke="#222" stroke-width="0.8"/>
<text class="b" x="440.80" y="233.90" font-size="9.01" stroke="#111" stroke-width="0.15" textLength="27.62" lengthAdjust="spacingAndGlyphs">90 DAS</text>
<text class="b" x="440.80" y="242.30" font-size="9.01" stroke="#111" stroke-width="0.15" textLength="31.88" lengthAdjust="spacingAndGlyphs">120 DAS</text>
</g>
</svg>
</body></html>
